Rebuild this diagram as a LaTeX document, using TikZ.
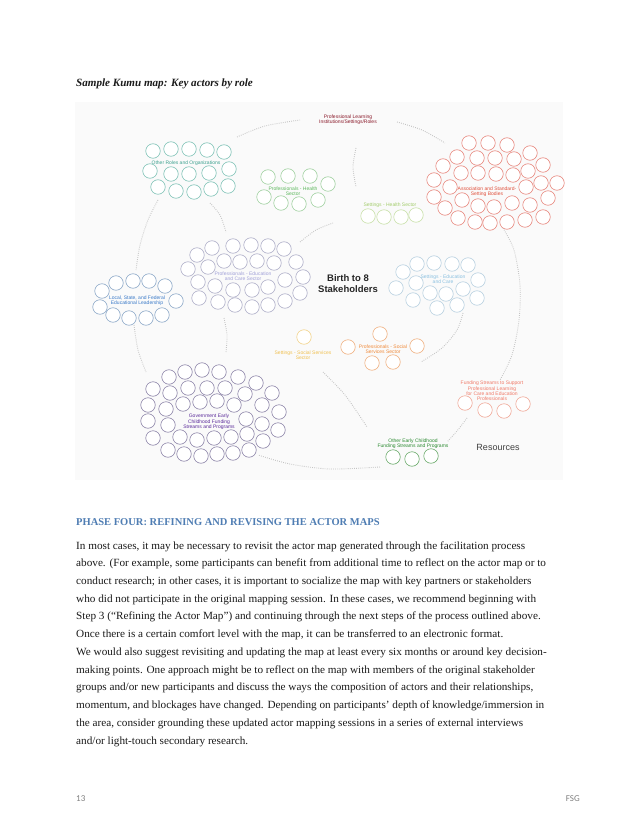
\documentclass[tikz,border=0pt]{standalone}
\usepackage{fontspec}
\setmainfont{Liberation Serif}
\newfontfamily\bodyserif[FakeStretch=1.02]{Liberation Serif}
\newfontfamily\mapsans{Liberation Sans}
\newfontfamily\footsans{Carlito}
\definecolor{mapbg}{HTML}{FAFAFA}
\definecolor{linkgray}{HTML}{C4C4C4}
\definecolor{bodytext}{HTML}{1A1A1A}
\definecolor{headblue}{HTML}{4F7DB3}
\definecolor{footgray}{HTML}{808080}
\definecolor{orC}{HTML}{7FC2B6}\definecolor{orT}{HTML}{3AA08E}
\definecolor{phC}{HTML}{9FD09F}\definecolor{phT}{HTML}{5CB85C}
\definecolor{asC}{HTML}{E8877D}\definecolor{asT}{HTML}{E0503C}
\definecolor{shC}{HTML}{C8E0A8}\definecolor{shT}{HTML}{A2CC6A}
\definecolor{peC}{HTML}{AEAEC8}\definecolor{peT}{HTML}{A0A0D8}
\definecolor{loC}{HTML}{8CA8C8}\definecolor{loT}{HTML}{3A7AC8}
\definecolor{seC}{HTML}{B8D0E0}\definecolor{seT}{HTML}{8AC0E0}
\definecolor{ssC}{HTML}{F2D38A}\definecolor{ssT}{HTML}{F0C050}
\definecolor{psC}{HTML}{F0B080}\definecolor{psT}{HTML}{F08A3A}
\definecolor{gvC}{HTML}{8C84A8}\definecolor{gvT}{HTML}{5A2A9A}
\definecolor{fsC}{HTML}{F0A898}\definecolor{fsT}{HTML}{F07A68}
\definecolor{oeC}{HTML}{6AAA6A}\definecolor{oeT}{HTML}{2A8A30}
\definecolor{plT}{HTML}{8A1A2A}
\tikzset{
  actor/.style={circle, draw=#1, fill=white, line width=0.6pt, minimum size=14.5pt, inner sep=0pt},
  grp/.style={font=\mapsans\fontsize{5}{5.3}\selectfont, text=#1, align=center, inner sep=0pt},
  link/.style={draw=linkgray, line width=0.9pt, dash pattern=on 0.8pt off 1.3pt},
  body/.style={anchor=base west, inner sep=0pt, font=\bodyserif\fontsize{11}{12}\selectfont, text=bodytext},
}
\newcommand{\drawcluster}[3]{\foreach \p [count=\i] in {#3} {\node[actor=#2] (#1\i) at \p {};}}
\begin{document}
\begin{tikzpicture}[x=1pt,y=-1pt]
\useasboundingbox (0,0) rectangle (638,826);
\fill[white] (0,0) rectangle (638,826);
\fill[mapbg] (75,102) rectangle (563,480);

% title
\node[anchor=base west, inner sep=0pt, font=\bfseries\itshape\fontsize{11.1}{12}\selectfont, text=bodytext] (title) at (76,87) {Sample Kumu map: Key actors by role};

% dotted arcs
\draw[link] plot[smooth] coordinates {(237,137) (265,126) (300,120)};
\draw[link] plot[smooth] coordinates {(397,122) (422,130) (445,143)};
\draw[link] plot[smooth] coordinates {(503,228) (514,250) (520,285) (519,320) (512,355) (500,380)};
\draw[link] plot[smooth] coordinates {(467,418) (457,431) (447,442)};
\draw[link] plot[smooth] coordinates {(380,467) (330,469) (290,464) (258,455)};
\draw[link] plot[smooth] coordinates {(158,200) (148,220) (140,245) (136,270)};
\draw[link] plot[smooth] coordinates {(134,325) (138,350) (146,372)};
\draw[link] plot[smooth] coordinates {(356,148) (353,167) (356,187)};
\draw[link] plot[smooth] coordinates {(300,242) (316,230) (333,223)};
\draw[link] plot[smooth] coordinates {(323,372) (345,395) (367,427)};
\draw[link] plot[smooth] coordinates {(463,313) (457,330) (442,348) (421,362)};
\draw[link] plot[smooth] coordinates {(210,203) (220,215) (226,232)};
\draw[link] plot[smooth] coordinates {(224,318) (227,335) (226,352)};

% clusters
\drawcluster{or}{orC}{(153,151),(171,149),(189,149),(207,150),(224,152),(229,169),(150,171),(171,174),(189,174),(209,173),(228,186),(158,187),(176,191),(194,192),(211,189)}
\drawcluster{ph}{phC}{(268,177),(288,176),(310,176),(328,184),(264,197),(281,203),(299,204),(318,200)}
\drawcluster{as}{asC}{(469,143),(488,143),(507,145),(457,157),(477,158),(495,158),(514,159),(530,153),(443,166),(461,173),(478,173),(496,174),(513,175),(528,171),(543,165),(557,183),(434,180),(450,187),(526,187),(541,183),(434,197),(445,208),(462,200),(478,206),(494,207),(512,203),(530,205),(548,198),(458,218),(475,222),(490,223),(507,222),(525,220),(543,217)}
\drawcluster{sh}{shC}{(368,216),(384,217),(401,217),(416,215)}
\drawcluster{pe}{peC}{(197,255),(212,248),(233,246),(251,245),(268,246),(284,249),(188,269),(208,267),(224,261),(240,262),(257,261),(274,263),(296,262),(198,282),(215,286),(285,280),(303,277),(233,290),(252,290),(268,287),(199,298),(218,302),(235,305),(252,307),(268,305),(285,301),(300,293)}
\drawcluster{lo}{loC}{(102,291),(116,283),(133,281),(149,281),(165,286),(176,301),(162,315),(146,318),(129,318),(113,315),(100,307)}
\drawcluster{se}{seC}{(403,272),(417,264),(434,263),(452,264),(468,265),(478,280),(396,288),(416,283),(430,293),(446,294),(463,289),(477,298),(413,300),(437,308),(457,305)}
\drawcluster{ss}{ssC}{(304,337)}
\drawcluster{ps}{psC}{(380,334),(348,347),(417,346),(372,363),(393,362)}
\drawcluster{gv}{gvC}{(169,377),(185,372),(202,370),(219,372),(238,377),(256,383),(153,389),(170,393),(188,388),(207,388),(225,388),(245,394),(272,393),(262,405),(279,412),(148,405),(166,409),(183,404),(200,402),(217,401),(234,405),(246,419),(148,421),(168,425),(262,424),(278,430),(153,438),(180,437),(197,440),(214,438),(231,437),(247,434),(263,441),(168,450),(184,454),(201,456),(217,454),(233,453),(249,450)}
\drawcluster{fs}{fsC}{(465,403),(485,410),(504,411),(523,404)}
\drawcluster{oe}{oeC}{(393,457),(412,459),(431,456)}

% cluster labels
\node[grp=plT] (lblPL) at (348,119.5) {Professional Learning\\Institutions/Settings/Roles};
\node[grp=orT] (lblOR) at (186,163) {Other Roles and Organizations};
\node[grp=phT] (lblPH) at (293,191.5) {Professionals - Health\\Sector};
\node[grp=asT] (lblAS) at (487,191.5) {Association and Standard-\\Setting Bodies};
\node[grp=shT] (lblSH) at (390,205) {Settings - Health Sector};
\node[grp=peT] (lblPE) at (243,276.5) {Professionals - Education\\and Care Sector};
\node[grp=loT] (lblLO) at (137,300.5) {Local, State, and Federal\\Educational Leadership};
\node[grp=seT] (lblSE) at (443,279.5) {Settings - Education\\and Care};
\node[grp=ssT] (lblSS) at (303,355.5) {Settings - Social Services\\Sector};
\node[grp=psT] (lblPS) at (383,349.5) {Professionals - Social\\Services Sector};
\node[grp=gvT] (lblGV) at (209,422) {Government Early\\Childhood Funding\\Streams and Programs};
\node[grp=fsT] (lblFS) at (492,391) {Funding Streams to Support\\Professional Learning\\for Care and Education\\Professionals};
\node[grp=oeT] (lblOE) at (413,443.5) {Other Early Childhood\\Funding Streams and Programs};
\node[font=\mapsans\bfseries\fontsize{9.5}{11}\selectfont, text=black!85, align=center, inner sep=0pt] (center) at (348,284) {Birth to 8\\Stakeholders};
\node[font=\mapsans\fontsize{9}{10}\selectfont, text=black!75, inner sep=0pt] (resources) at (498,447) {Resources};

% heading
\node[anchor=base west, inner sep=0pt, font=\bfseries\fontsize{10.5}{12}\selectfont, text=headblue] (heading) at (76,525) {PHASE FOUR: REFINING AND REVISING THE ACTOR MAPS};

% body
\node[body] (t1) at (76,549) {In most cases, it may be necessary to revisit the actor map generated through the facilitation process};
\node[body] (t2) at (76,566.7) {above. (For example, some participants can benefit from additional time to reflect on the actor map or to};
\node[body] (t3) at (76,584.5) {conduct research; in other cases, it is important to socialize the map with key partners or stakeholders};
\node[body] (t4) at (76,602.2) {who did not participate in the original mapping session. In these cases, we recommend beginning with};
\node[body] (t5) at (76,619.9) {Step 3 (“Refining the Actor Map”) and continuing through the next steps of the process outlined above.};
\node[body] (t6) at (76,637.7) {Once there is a certain comfort level with the map, it can be transferred to an electronic format.};
\node[body] (t7) at (76,655.4) {We would also suggest revisiting and updating the map at least every six months or around key decision-};
\node[body] (t8) at (76,673.1) {making points. One approach might be to reflect on the map with members of the original stakeholder};
\node[body] (t9) at (76,690.8) {groups and/or new participants and discuss the ways the composition of actors and their relationships,};
\node[body] (t10) at (76,708.6) {momentum, and blockages have changed. Depending on participants’ depth of knowledge/immersion in};
\node[body] (t11) at (76,726.3) {the area, consider grounding these updated actor mapping sessions in a series of external interviews};
\node[body] (t12) at (76,744) {and/or light-touch secondary research.};

% footer
\node[anchor=base west, inner sep=0pt, font=\footsans\fontsize{9}{10}\selectfont, text=footgray] (pagenum) at (76,801) {13};
\node[anchor=base east, inner sep=0pt, font=\footsans\fontsize{9}{10}\selectfont, text=footgray] (fsg) at (580,801) {FSG};
\end{tikzpicture}
\end{document}
